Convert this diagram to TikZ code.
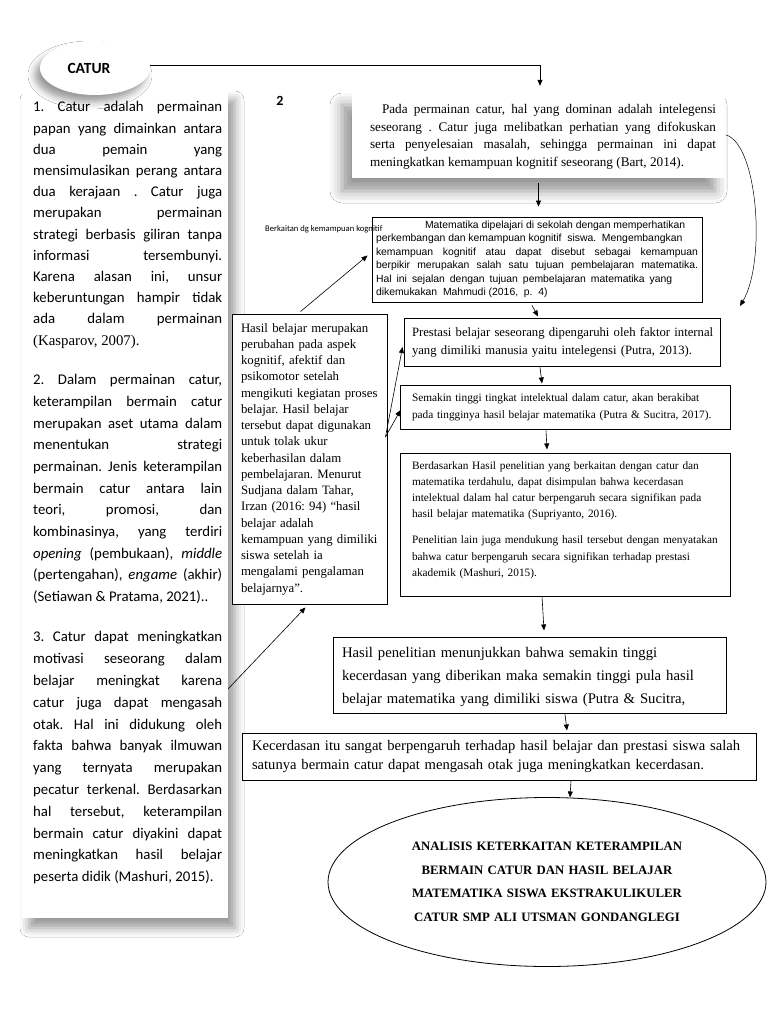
\documentclass[tikz,border=0pt]{standalone}
\usepackage{fontspec}
\setmainfont{Liberation Serif}
\newfontfamily\carl{Carlito}
\newfontfamily\lsans{Liberation Sans}
\usetikzlibrary{arrows.meta,shadows.blur,shapes.geometric,calc}
\tikzset{
  box/.style={draw, line width=0.9pt, inner xsep=0pt, inner ysep=0pt, align=left},
  arr/.style={-{Triangle[length=6pt,width=5pt]}, line width=0.6pt},
  lcp/.style={anchor=north west, inner sep=0pt, text width=189pt, align=justify},
  lpad/.style={execute at begin node={\leftskip=#1\relax}},
}
\begin{document}
\frenchspacing\hyphenpenalty=10000\exhyphenpenalty=10000
\begin{tikzpicture}[x=1pt,y=-1pt]
\fill[white] (0,0) rectangle (768,1024);
\useasboundingbox (0,0) rectangle (768,1024);

% left column
\node[fill=white, minimum width=206pt, minimum height=828pt, inner sep=0pt,
  blur shadow={shadow xshift=7pt, shadow yshift=-10pt, shadow blur radius=9pt, shadow opacity=40}] (lcol) at (125,504) {};

\node[ellipse, fill=white, minimum width=110pt, minimum height=54pt, inner sep=0pt,
  blur shadow={shadow xshift=-5pt, shadow yshift=-7pt, shadow blur radius=7pt, shadow opacity=40},
  font=\carl\bfseries\fontsize{15.5}{17}\selectfont] (catur) at (95,68) {\kern-6pt CATUR\kern6pt};

\node[lcp, font=\carl\fontsize{14.8}{21.2}\selectfont] (p1) at (33,101.5) {1. Catur adalah permainan\linebreak papan yang dimainkan antara\linebreak dua pemain yang\linebreak mensimulasikan perang antara\linebreak dua kerajaan . Catur juga\linebreak merupakan permainan\linebreak strategi berbasis giliran tanpa\linebreak informasi tersembunyi.\linebreak Karena alasan ini, unsur\linebreak keberuntungan hampir tidak\linebreak ada dalam permainan\linebreak {\rmfamily (Kasparov, 2007).}};

\node[lcp, font=\carl\fontsize{14.8}{21.7}\selectfont] (p2) at (33,374.2) {2. Dalam permainan catur,\linebreak keterampilan bermain catur\linebreak merupakan aset utama dalam\linebreak menentukan strategi\linebreak permainan. Jenis keterampilan\linebreak bermain catur antara lain\linebreak teori, promosi, dan\linebreak kombinasinya, yang terdiri\linebreak \textit{opening} (pembukaan), \textit{middle}\linebreak (pertengahan), \textit{engame} (akhir)\linebreak (Setiawan \& Pratama, 2021)..};

\node[lcp, font=\carl\fontsize{14.8}{21.8}\selectfont] (p3) at (33,631.5) {3. Catur dapat meningkatkan\linebreak motivasi seseorang dalam\linebreak belajar meningkat karena\linebreak catur juga dapat mengasah\linebreak otak. Hal ini didukung oleh\linebreak fakta bahwa banyak ilmuwan\linebreak yang ternyata merupakan\linebreak pecatur terkenal. Berdasarkan\linebreak hal tersebut, keterampilan\linebreak bermain catur diyakini dapat\linebreak meningkatkan hasil belajar\linebreak peserta didik (Mashuri, 2015).};

\node[font=\carl\bfseries\fontsize{14}{16}\selectfont] (two) at (280,101) {2};

% top box
\node[fill=white, minimum width=373pt, minimum height=86pt, inner xsep=0pt, inner ysep=0pt,
  text width=373pt, align=justify,
  execute at begin node={\leftskip=18pt\rightskip=9pt\relax},
  blur shadow={shadow xshift=-10pt, shadow yshift=-13pt, shadow blur radius=12pt, shadow opacity=42},
  font=\fontsize{13.2}{17.7}\selectfont] (tb) at (538.5,135) {\rule{0pt}{13pt}\hspace*{12pt}Pada permainan catur, hal yang dominan adalah intelegensi\linebreak seseorang . Catur juga melibatkan perhatian yang difokuskan\linebreak serta penyelesaian masalah, sehingga permainan ini dapat\linebreak meningkatkan kemampuan kognitif seseorang (Bart, 2014).};

\node[anchor=west, inner sep=0pt, font=\carl\fontsize{8.6}{10}\selectfont] (bk) at (265,229) {Berkaitan dg kemampuan kognitif};

\node[box, minimum width=330pt, minimum height=85pt, text width=330pt, align=justify,
  execute at begin node={\leftskip=4pt\rightskip=4pt\relax},
  font=\lsans\fontsize{10.4}{13.5}\selectfont] (b2) at (537,259.5) {\hspace*{49pt}Matematika dipelajari di sekolah dengan memperhatikan\\ perkembangan dan kemampuan kognitif\ \ siswa.\ \ Mengembangkan\\ kemampuan kognitif atau dapat disebut sebagai kemampuan\linebreak berpikir merupakan salah satu tujuan pembelajaran matematika.\linebreak {\spaceskip=5pt plus 1pt minus 1pt Hal ini sejalan dengan tujuan pembelajaran matematika yang}\\ dikemukakan\ \ Mahmudi (2016,\ \ p.\ \ 4)};

\node[box, fill=white, minimum width=316pt, minimum height=48pt, text width=316pt, lpad=8pt,
  font=\fontsize{12.7}{18}\selectfont] (b3) at (562,342) {Prestasi belajar seseorang dipengaruhi oleh faktor internal\\ yang dimiliki manusia yaitu intelegensi (Putra, 2013).};

\node[box, fill=white, minimum width=330pt, minimum height=44pt, text width=330pt, lpad=12pt,
  font=\fontsize{11.3}{17}\selectfont] (b4) at (565,407) {Semakin tinggi tingkat intelektual dalam catur, akan berakibat\\ pada tingginya hasil belajar matematika (Putra \& Sucitra, 2017).};

\node[box, fill=white, minimum width=330pt, minimum height=143pt, text width=330pt, lpad=12pt,
  font=\fontsize{11.3}{16.3}\selectfont] (b5) at (565,524.5) {Berdasarkan Hasil penelitian yang berkaitan dengan catur dan\\ matematika terdahulu, dapat disimpulan bahwa kecerdasan\\ intelektual dalam hal catur berpengaruh secara signifikan pada\\ hasil belajar matematika (Supriyanto, 2016).\\[9.7pt] Penelitian lain juga mendukung hasil tersebut dengan menyatakan\\ bahwa catur berpengaruh secara signifikan terhadap prestasi\\ akademik (Mashuri, 2015).\\[-5pt]\mbox{}};

\node[box, fill=white, minimum width=155pt, minimum height=290pt, text width=155pt, lpad=9pt,
  font=\fontsize{12.8}{16.25}\selectfont] (hb) at (309.5,459) {Hasil belajar merupakan\\ perubahan pada aspek\\ kognitif, afektif dan\\ psikomotor setelah\\ mengikuti kegiatan proses\\ belajar. Hasil belajar\\ tersebut dapat digunakan\\ untuk tolak ukur\\ keberhasilan dalam\\ pembelajaran. Menurut\\ Sudjana dalam Tahar,\\ Irzan (2016: 94) “hasil\\ belajar adalah\\ kemampuan yang dimiliki\\ siswa setelah ia\\ mengalami pengalaman\\ belajarnya”.};

\node[box, fill=white, minimum width=393pt, minimum height=76pt, text width=393pt, lpad=9pt,
  font=\fontsize{14.7}{23}\selectfont] (b6) at (529.5,675) {\rule{0pt}{14pt}Hasil penelitian menunjukkan bahwa semakin tinggi\\ kecerdasan yang diberikan maka semakin tinggi pula hasil\\ belajar matematika yang dimiliki siswa (Putra \& Sucitra,};

\node[box, fill=white, minimum width=514pt, minimum height=47pt, text width=514pt, lpad=10pt,
  font=\fontsize{14.6}{19}\selectfont] (b7) at (499,756.5) {Kecerdasan itu sangat berpengaruh terhadap hasil belajar dan prestasi siswa salah\\ satunya bermain catur dapat mengasah otak juga meningkatkan kecerdasan.};

\node[ellipse, draw, line width=0.8pt, minimum width=438pt, minimum height=169pt, inner sep=0pt,
  text width=300pt, align=center, font=\bfseries\fontsize{12.8}{23.5}\selectfont] (el) at (547,882) {ANALISIS KETERKAITAN KETERAMPILAN\\ BERMAIN CATUR DAN HASIL BELAJAR\\ MATEMATIKA SISWA EKSTRAKULIKULER\\ CATUR SMP ALI UTSMAN GONDANGLEGI};

% connectors
\draw[arr] ([yshift=3pt]catur.east) -| ([xshift=1.5pt,yshift=6pt]tb.north);
\draw[arr] ([yshift=-5pt]tb.south) -- ([yshift=10pt]tb.south |- b2.north);
\coordinate (ct) at (740,306);
\draw[arr, line width=0.5pt] ([xshift=1pt]tb.east) .. controls (758,145) and (766,262) .. (ct);
\draw[arr] ($(b2.south)+(-5,3)$) -- ($(b2.south)+(1,14)$);
\draw[arr] ($(b3.south)+(-22,1)$) -- ($(b3.south)+(-20,17)$);
\draw[arr] ($(b4.south)+(-19,1)$) -- ($(b4.south)+(-18,20)$);
\draw[arr] ($(b5.south)+(-23,0)$) -- ($(b5.south)+(-21,34)$);
\draw[arr] ($(b6.south)+(35.5,1)$) -- ($(b6.south)+(37.5,17)$);
\draw[arr] ($(b7.south)+(72,0)$) -- ($(b7.south)+(71,17)$);
\draw[arr] ($(hb.north)+(-9,-2)$) -- ($(b2.west)+(-4,-4)$);
\draw[arr] ($(hb.east)+(-2,-22)$) -- ($(b3.west)+(-1,5)$);
\draw[arr] ($(hb.east)+(-2,-22)$) -- ($(b4.west)+(1,3)$);
\draw[arr] ($(lcol.north east)+(0,599)$) -- ($(hb.south)+(-4,3)$);
\end{tikzpicture}
\end{document}
